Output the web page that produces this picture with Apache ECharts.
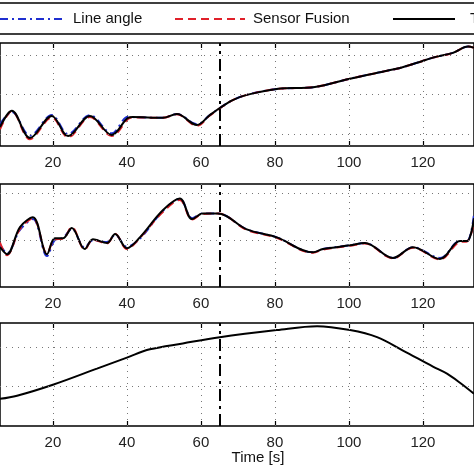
<!DOCTYPE html>
<html><head><meta charset="utf-8">
<script src="https://cdn.jsdelivr.net/npm/echarts@6/dist/echarts.min.js"></script>
<style>html,body{margin:0;padding:0;background:#fff}#c{width:474px;height:474px}</style>
</head><body><div id="c"></div>
<script>
const xTicks = [20, 40, 60, 80, 100, 120];
const xRange = [5.7, 133.8];
const legendNames = ['Line angle', 'Sensor Fusion', 'True'];
const eventTime = 65;
// Panel 1
const t1 = [5.7,8.9,13.8,19.7,24.1,30.0,35.9,40.3,41.6,49.7,53.5,58.9,62.4,65.1,68.6,72.4,80.5,90.8,100.3,110.3,113.8,118.4,122.7,128.1,132.2,133.8];
const p1True = [0.48,0.89,0.20,0.76,0.25,0.76,0.28,0.71,0.73,0.71,0.81,0.53,0.78,0.96,1.16,1.29,1.44,1.49,1.70,1.90,1.97,2.10,2.23,2.35,2.51,2.48];
const p1Line = [0.55,0.86,0.26,0.78,0.30,0.78,0.32,0.74,0.73,0.71,0.81,0.55,0.78,0.96,1.16,1.29,1.44,1.49,1.70,1.90,1.97,2.10,2.23,2.35,2.51,2.48];
const p1Fusion = [0.42,0.88,0.17,0.72,0.22,0.73,0.25,0.68,0.72,0.71,0.80,0.51,0.77,0.95,1.16,1.29,1.44,1.49,1.70,1.90,1.97,2.10,2.23,2.35,2.51,2.48];
const p1Grid = [0.3, 1.3, 2.3];
// Panel 2
const t2 = [5.7,7.6,11.1,14.6,18.4,20.5,22.7,25.1,28.6,30.8,34.6,36.8,40.0,43.5,49.7,54.3,57.6,60.5,64.6,72.4,80.5,90.3,93.0,100.3,104.3,111.9,117.3,124.6,130.0,131.9,133.8];
const p2True = [0.85,0.70,1.28,1.49,0.70,1.04,1.04,1.26,0.81,1.02,0.94,1.13,0.83,1.06,1.64,1.89,1.45,1.57,1.57,1.23,1.06,0.74,0.81,0.89,0.94,0.62,0.85,0.60,0.98,0.98,1.47];
const p2Line = [0.90,0.72,1.22,1.45,0.66,1.00,1.05,1.24,0.84,1.00,0.96,1.11,0.86,1.03,1.62,1.88,1.47,1.57,1.57,1.23,1.06,0.74,0.81,0.89,0.94,0.62,0.85,0.62,0.98,0.98,1.55];
const p2Fusion = [0.95,0.68,1.24,1.47,0.72,1.02,1.03,1.28,0.80,1.01,0.93,1.14,0.81,1.05,1.60,1.86,1.44,1.56,1.57,1.22,1.05,0.73,0.80,0.88,0.93,0.61,0.84,0.59,0.96,0.97,1.38];
const p2Grid = [1, 2];
// Panel 3
const t3 = [5.7,10.3,20.0,31.9,40.0,46.2,55.1,65.1,80.5,91.4,100.3,107.6,114.6,122.7,126.5,130.0,133.8];
const p3True = [0.69,0.77,1.05,1.46,1.74,1.95,2.10,2.26,2.44,2.54,2.44,2.26,1.92,1.51,1.33,1.10,0.82];
const p3Grid = [1, 2];

const zip = (a,b) => a.map((v,i)=>[v,b[i]]);
const chart = echarts.init(document.getElementById('c'));
const grids = [{top:43,height:103},{top:184,height:103},{top:323,height:103}];
const yr = [[0,2.6],[0,2.2],[0,2.62]];
const hGrid = [p1Grid, p2Grid, p3Grid];
const font = 'Liberation Sans, Arial, sans-serif';
const dotted = {type:[1,5],color:'#777',width:1};
const gridOpt = grids.map(g=>({left:0,right:0,top:g.top,height:g.height,show:true,borderColor:'#000',borderWidth:1.5,backgroundColor:'#fff'}));
const xAxes=[], yAxes=[];
for(let i=0;i<3;i++){
  xAxes.push({gridIndex:i,type:'value',min:xRange[0],max:xRange[1],position:'bottom',
    axisLine:{show:false},axisTick:{show:true,inside:true,length:5,customValues:xTicks,lineStyle:{color:'#000',width:1.2}},
    axisLabel:{fontSize:15,color:'#222',fontFamily:font,margin:9,customValues:xTicks},
    splitLine:{show:false}});
  xAxes.push({gridIndex:i,type:'value',min:xRange[0],max:xRange[1],position:'top',
    axisLine:{show:false},axisTick:{show:true,inside:true,length:5,customValues:xTicks,lineStyle:{color:'#000',width:1.2}},
    axisLabel:{show:false},splitLine:{show:false}});
  yAxes.push({gridIndex:i,type:'value',min:yr[i][0],max:yr[i][1],axisLine:{show:false},axisTick:{show:false},axisLabel:{show:false},splitLine:{show:false}});
}
const mk=(name,i,data,color,type,extra)=>Object.assign({name,type:'line',xAxisIndex:i*2,yAxisIndex:i,data,symbol:'none',smooth:0.35,
  lineStyle:{color,width:2,type},itemStyle:{color}},extra||{});
const series=[
  mk(legendNames[0],0,zip(t1,p1Line),'#1f2fd0',[8,4,2,4]),
  mk(legendNames[1],0,zip(t1,p1Fusion),'#e0202a',[8,5]),
  mk(legendNames[2],0,zip(t1,p1True),'#000','solid'),
  mk(legendNames[0],1,zip(t2,p2Line),'#1f2fd0',[8,4,2,4]),
  mk(legendNames[1],1,zip(t2,p2Fusion),'#e0202a',[8,5]),
  mk(legendNames[2],1,zip(t2,p2True),'#000','solid'),
  mk(legendNames[2],2,zip(t3,p3True),'#000','solid')
];
for(let i=0;i<3;i++){
  series.push({type:'line',xAxisIndex:i*2,yAxisIndex:i,data:[],z:1,markLine:{symbol:'none',silent:true,label:{show:false},lineStyle:dotted,
    data:xTicks.map(v=>({xAxis:v})).concat(hGrid[i].map(v=>({yAxis:v})))}});
  series.push({type:'line',xAxisIndex:i*2,yAxisIndex:i,data:[],z:5,markLine:{symbol:'none',silent:true,label:{show:false},
    lineStyle:{color:'#000',width:2,type:[12,5,3,5]},data:[{xAxis:eventTime}]}});
}
const lg = [
  {x1:0,x2:65,tx:73,color:'#1f2fd0',dash:[8,4,2,4]},
  {x1:175,x2:245,tx:253,color:'#e0202a',dash:[8,5]},
  {x1:393,x2:455,tx:470,color:'#000',dash:null}
];
const graphic=[{type:'rect',shape:{x:-5,y:3,width:484,height:31},style:{fill:'#fff',stroke:'#000',lineWidth:1.5},z:1}];
lg.forEach((l,i)=>{
  graphic.push({type:'line',shape:{x1:l.x1,y1:19,x2:l.x2,y2:19},style:{stroke:l.color,lineWidth:2,lineDash:l.dash},z:2});
  graphic.push({type:'text',x:l.tx,y:19,style:{text:legendNames[i],fontSize:15,fontFamily:font,fill:'#111',verticalAlign:'middle'},z:2});
});
graphic.push({type:'text',x:258,y:458,style:{text:'Time [s]',fontSize:15,fontFamily:font,fill:'#111',align:'center',verticalAlign:'middle'}});
chart.setOption({animation:false,grid:gridOpt,xAxis:xAxes,yAxis:yAxes,series,graphic});
</script></body></html>
